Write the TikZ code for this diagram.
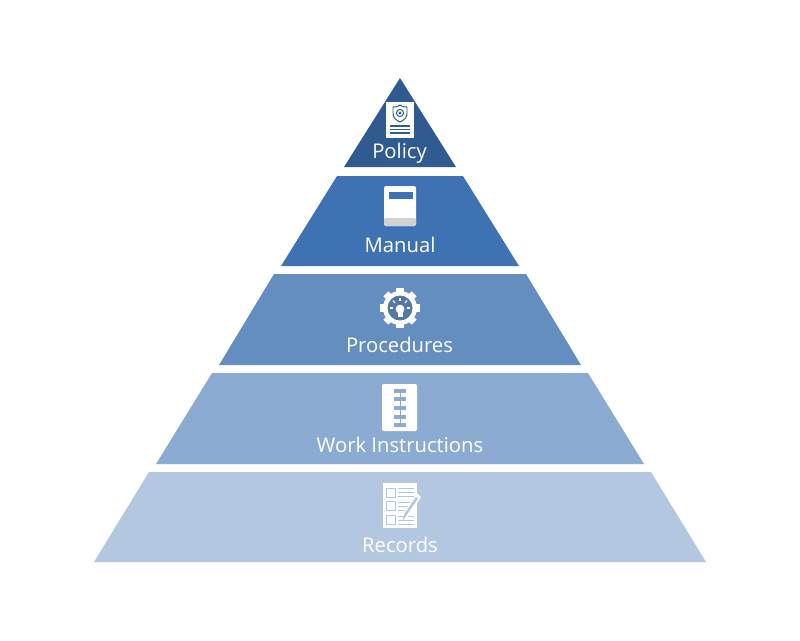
\documentclass[tikz,border=0pt]{standalone}
\usepackage{fontspec}
\setmainfont{Open Sans}
\usepackage{xcolor}
\definecolor{tierA}{HTML}{2F5B90}
\definecolor{tierB}{HTML}{3F72B2}
\definecolor{tierC}{HTML}{648DC0}
\definecolor{tierD}{HTML}{8CABD2}
\definecolor{tierE}{HTML}{B3C7E1}
\definecolor{tierLine}{HTML}{D0D2D3}
\tikzset{
	tierlabel/.style={text=white,font=\fontsize{14.4}{16}\selectfont,inner sep=0pt,anchor=center},
	paper/.style={fill=white,draw=none},
}
\begin{document}
\begin{tikzpicture}[x=0.025cm,y=-0.025cm]
	\useasboundingbox (0,0) rectangle (800,640);
	\fill[white] (0,0) rectangle (800,640);
	% tiers
	\fill[tierA] (400,78) -- (456,167) -- (344,167) -- cycle;
	\fill[tierB] (337,176) -- (463,176) -- (519,266) -- (281,266) -- cycle;
	\fill[tierC] (274,274) -- (526,274) -- (581,365) -- (219,365) -- cycle;
	\fill[tierD] (212,373) -- (588,373) -- (644,464) -- (156,464) -- cycle;
	\fill[tierE] (149,472) -- (651,472) -- (706,562) -- (94,562) -- cycle;
	% labels
	\node[tierlabel] (policy) at (399.5,153) {Policy};
	\node[tierlabel] (manual) at (400,245) {Manual};
	\node[tierlabel] (procedures) at (399.5,345) {Procedures};
	\node[tierlabel] (work) at (400,445) {Work Instructions};
	\node[tierlabel] (records) at (400,545) {Records};
	% policy icon
	\fill[paper] (386,102) rectangle (414,138);
	\draw[tierA,line width=0.7pt,fill=white] (400,105) .. controls (403,107) and (405,107) .. (407,107) -- (407,113) .. controls (407,118) and (404,120) .. (400,122) .. controls (396,120) and (393,118) .. (393,113) -- (393,107) .. controls (395,107) and (397,107) .. (400,105) -- cycle;
	\draw[tierA,line width=0.7pt] (400,113) circle (3.6);
	\fill[tierA] (400,113) circle (1.6);
	\draw[tierA,line width=0.9pt] (390,126) -- (410,126);
	\draw[tierA,line width=0.9pt] (390,129.5) -- (410,129.5);
	\draw[tierA,line width=0.9pt] (390,133) -- (410,133);
	% manual icon
	\fill[paper,rounded corners=1.5pt] (384,186) rectangle (416,226);
	\fill[tierB] (389,192) rectangle (413,199);
	\fill[tierLine,rounded corners=1pt] (384,218) rectangle (416,226);
	% procedures icon
	\fill[white] (400,308) circle (17);
	\draw[white,line width=5pt] (400,308) ++(0:15) -- ++(0:5);
	\draw[white,line width=5pt] (400,308) ++(45:15) -- ++(45:5);
	\draw[white,line width=5pt] (400,308) ++(90:15) -- ++(90:5);
	\draw[white,line width=5pt] (400,308) ++(135:15) -- ++(135:5);
	\draw[white,line width=5pt] (400,308) ++(180:15) -- ++(180:5);
	\draw[white,line width=5pt] (400,308) ++(225:15) -- ++(225:5);
	\draw[white,line width=5pt] (400,308) ++(270:15) -- ++(270:5);
	\draw[white,line width=5pt] (400,308) ++(315:15) -- ++(315:5);
	\fill[tierC!85!black] (400,308) circle (12.5);
	\fill[white] (400,309) circle (4.4);
	\fill[white] (397.5,312) rectangle (402.5,317);
	\draw[white,line width=0.8pt] (400,298) -- (400,301);
	\draw[white,line width=0.8pt] (393,300.5) -- (395,303);
	\draw[white,line width=0.8pt] (407,300.5) -- (405,303);
	\draw[white,line width=0.8pt] (390,308) -- (393,308);
	\draw[white,line width=0.8pt] (410,308) -- (407,308);
	% work instructions icon
	\fill[paper,rounded corners=1pt] (382,384) rectangle (417,431);
	\draw[tierD,line width=0.3pt] (400,391) -- (400,425);
	\fill[tierD] (394,389) rectangle (406,393);
	\fill[tierD] (394,397) rectangle (406,401);
	\fill[tierD] (394,406) rectangle (406,410);
	\fill[tierD] (394,415) rectangle (406,419);
	\fill[tierD] (394,423) rectangle (406,427);
	% records icon
	\fill[paper] (383,483) rectangle (417,528);
	\draw[tierE,line width=0.6pt] (386.5,488) rectangle (395,497);
	\draw[tierE,line width=0.6pt] (386.5,501.5) rectangle (395,510.5);
	\draw[tierE,line width=0.6pt] (386.5,515) rectangle (395,524);
	\draw[tierE,line width=0.6pt] (398,488) -- (414,488);
	\draw[tierE,line width=0.6pt] (398,492) -- (414,492);
	\draw[tierE,line width=0.6pt] (398,496) -- (414,496);
	\draw[tierE,line width=0.6pt] (398,502) -- (410,502);
	\draw[tierE,line width=0.6pt] (398,506) -- (408,506);
	\draw[tierE,line width=0.6pt] (398,510) -- (406,510);
	\draw[tierE,line width=0.6pt] (398,516) -- (414,516);
	\draw[tierE,line width=0.6pt] (398,520) -- (414,520);
	\draw[tierE,line width=0.6pt] (398,524) -- (414,524);
	\fill[white] (417,493) -- (421,497) -- (407,518) -- (402,515) -- cycle;
	\fill[tierE] (416,497) -- (418,498.5) -- (406,516) -- (404,514.5) -- cycle;
	\fill[tierE] (404,514.5) -- (406,516) -- (402.5,521) -- cycle;
\end{tikzpicture}
\end{document}
